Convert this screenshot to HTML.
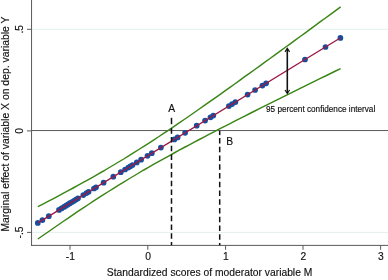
<!DOCTYPE html>
<html><head><meta charset="utf-8"><title>Marginal effect plot</title>
<style>
html,body{margin:0;padding:0;background:#fff;}
svg{display:block;}
text{font-family:"Liberation Sans",Arial,sans-serif;fill:#111;stroke:#111;stroke-width:0.15px;}
</style></head><body>
<svg width="388" height="280" viewBox="0 0 388 280">
<rect width="388" height="280" fill="#fff"/>
<g stroke="#e4f0ef" stroke-width="1">
<line x1="32" y1="29.3" x2="388" y2="29.3"/>
<line x1="32" y1="232.4" x2="388" y2="232.4"/>
</g>
<g stroke="#5a5a5a" stroke-width="1" fill="none">
<line x1="31.55" y1="0" x2="31.55" y2="245.9"/>
<line x1="31" y1="245.4" x2="388" y2="245.4"/>
<line x1="27" y1="29.3" x2="31.5" y2="29.3"/>
<line x1="27" y1="130.9" x2="31.5" y2="130.9"/>
<line x1="31.5" y1="130.55" x2="388" y2="130.55"/>
<line x1="27" y1="232.4" x2="31.5" y2="232.4"/>
<line x1="70" y1="245.4" x2="70" y2="249.8"/>
<line x1="147.8" y1="245.4" x2="147.8" y2="249.8"/>
<line x1="225.6" y1="245.4" x2="225.6" y2="249.8"/>
<line x1="303" y1="245.4" x2="303" y2="249.8"/>
<line x1="380.6" y1="245.4" x2="380.6" y2="249.8"/>
</g>
<g fill="none" stroke="#3a8515" stroke-width="1.45">
<path d="M37.9,206.7 L42.9,204.1 L48.0,201.4 L53.0,198.8 L58.1,196.1 L63.1,193.4 L68.2,190.7 L73.2,188.0 L78.3,185.2 L83.3,182.4 L88.4,179.6 L93.4,176.8 L98.4,173.9 L103.5,171.0 L108.5,168.0 L113.6,165.0 L118.6,162.0 L123.7,159.0 L128.7,155.9 L133.8,152.7 L138.8,149.5 L143.8,146.3 L148.9,143.1 L153.9,139.8 L159.0,136.5 L164.0,133.1 L169.1,129.8 L174.1,126.3 L179.2,122.9 L184.2,119.5 L189.3,116.0 L194.3,112.5 L199.3,109.0 L204.4,105.4 L209.4,101.9 L214.5,98.3 L219.5,94.8 L224.6,91.2 L229.6,87.6 L234.7,84.0 L239.7,80.4 L244.7,76.7 L249.8,73.1 L254.8,69.5 L259.9,65.8 L264.9,62.2 L270.0,58.5 L275.0,54.9 L280.1,51.2 L285.1,47.5 L290.2,43.8 L295.2,40.2 L300.2,36.5 L305.3,32.8 L310.3,29.1 L315.4,25.4 L320.4,21.7 L325.5,18.0 L330.5,14.3 L335.6,10.6 L340.6,6.9"/>
<path d="M37.9,239.0 L42.9,235.5 L48.0,232.0 L53.0,228.5 L58.1,225.0 L63.1,221.5 L68.2,218.1 L73.2,214.6 L78.3,211.2 L83.3,207.9 L88.4,204.5 L93.4,201.2 L98.4,197.9 L103.5,194.7 L108.5,191.5 L113.6,188.3 L118.6,185.2 L123.7,182.1 L128.7,179.0 L133.8,176.0 L138.8,173.0 L143.8,170.0 L148.9,167.1 L153.9,164.2 L159.0,161.4 L164.0,158.6 L169.1,155.8 L174.1,153.0 L179.2,150.2 L184.2,147.5 L189.3,144.8 L194.3,142.1 L199.3,139.5 L204.4,136.8 L209.4,134.2 L214.5,131.6 L219.5,128.9 L224.6,126.4 L229.6,123.8 L234.7,121.2 L239.7,118.6 L244.7,116.1 L249.8,113.5 L254.8,111.0 L259.9,108.4 L264.9,105.9 L270.0,103.4 L275.0,100.9 L280.1,98.4 L285.1,95.9 L290.2,93.4 L295.2,90.9 L300.2,88.4 L305.3,85.9 L310.3,83.4 L315.4,80.9 L320.4,78.4 L325.5,76.0 L330.5,73.5 L335.6,71.0 L340.6,68.6"/>
</g>
<g fill="#14509f"><circle cx="37.8" cy="222.9" r="2.85"/><circle cx="42.4" cy="220.1" r="2.85"/><circle cx="48.8" cy="216.2" r="2.85"/><circle cx="59.0" cy="209.9" r="2.85"/><circle cx="61.5" cy="208.4" r="2.85"/><circle cx="64.0" cy="206.9" r="2.85"/><circle cx="66.0" cy="205.7" r="2.85"/><circle cx="68.0" cy="204.4" r="2.85"/><circle cx="70.0" cy="203.2" r="2.85"/><circle cx="72.0" cy="202.0" r="2.85"/><circle cx="74.0" cy="200.8" r="2.85"/><circle cx="76.0" cy="199.6" r="2.85"/><circle cx="78.0" cy="198.3" r="2.85"/><circle cx="83.3" cy="195.1" r="2.85"/><circle cx="86.5" cy="193.1" r="2.85"/><circle cx="88.6" cy="191.8" r="2.85"/><circle cx="94.0" cy="188.5" r="2.85"/><circle cx="96.0" cy="187.3" r="2.85"/><circle cx="103.6" cy="182.7" r="2.85"/><circle cx="113.3" cy="176.7" r="2.85"/><circle cx="120.8" cy="172.2" r="2.85"/><circle cx="125.1" cy="169.5" r="2.85"/><circle cx="128.3" cy="167.6" r="2.85"/><circle cx="130.4" cy="166.3" r="2.85"/><circle cx="132.5" cy="165.0" r="2.85"/><circle cx="136.8" cy="162.4" r="2.85"/><circle cx="141.1" cy="159.7" r="2.85"/><circle cx="147.5" cy="155.8" r="2.85"/><circle cx="151.8" cy="153.2" r="2.85"/><circle cx="160.9" cy="147.6" r="2.85"/><circle cx="174.4" cy="139.4" r="2.85"/><circle cx="177.6" cy="137.4" r="2.85"/><circle cx="185.1" cy="132.8" r="2.85"/><circle cx="196.7" cy="125.7" r="2.85"/><circle cx="205.1" cy="120.6" r="2.85"/><circle cx="210.5" cy="117.3" r="2.85"/><circle cx="213.3" cy="115.6" r="2.85"/><circle cx="228.9" cy="106.1" r="2.85"/><circle cx="232.1" cy="104.1" r="2.85"/><circle cx="235.4" cy="102.1" r="2.85"/><circle cx="247.6" cy="94.6" r="2.85"/><circle cx="255.1" cy="90.0" r="2.85"/><circle cx="262.4" cy="85.6" r="2.85"/><circle cx="266.1" cy="83.3" r="2.85"/><circle cx="305.0" cy="59.5" r="2.85"/><circle cx="325.5" cy="47.0" r="2.85"/><circle cx="340.4" cy="37.9" r="2.85"/></g>
<line x1="37.9" y1="222.85" x2="340.6" y2="37.75" stroke="#9c1a45" stroke-width="1.4"/>
<g stroke="#111" stroke-width="1.5" fill="none">
<line x1="171.5" y1="117.8" x2="171.5" y2="124.2"/>
<line x1="171.5" y1="128.2" x2="171.5" y2="245.3" stroke-dasharray="5.5 3.25"/>
<line x1="219.7" y1="130.7" x2="219.7" y2="135.1"/>
<line x1="219.7" y1="137.9" x2="219.7" y2="245.3" stroke-dasharray="5.5 3.25"/>
</g>
<g stroke="#111" fill="none">
<line x1="287.3" y1="48.8" x2="287.3" y2="93.1" stroke-width="1.6"/>
<path d="M285,51.9 L287.3,48.4 L289.6,51.9" stroke-width="1.15"/>
<path d="M285,90 L287.3,93.5 L289.6,90" stroke-width="1.15"/>
</g>
<g font-size="10.3px" text-anchor="middle">
<text x="171.6" y="112">A</text>
<text x="229.7" y="144.6">B</text>
<text x="70.4" y="260.4">-1</text>
<text x="148.1" y="260.4">0</text>
<text x="225.9" y="260.4">1</text>
<text x="303.3" y="260.4">2</text>
<text x="380.9" y="260.4">3</text>
<text x="209.6" y="276.1">Standardized scores of moderator variable M</text>
<text transform="translate(22.9,29.3) rotate(-90)">.5</text>
<text transform="translate(22.9,130.8) rotate(-90)">0</text>
<text transform="translate(22.9,232.4) rotate(-90)">-.5</text>
<text transform="translate(8.6,124.05) rotate(-90)" font-size="10.4px">Marginal effect of variable X on dep. variable Y</text>
</g>
<text x="266" y="112.3" font-size="8.2px">95 percent confidence interval</text>
</svg>
</body></html>
